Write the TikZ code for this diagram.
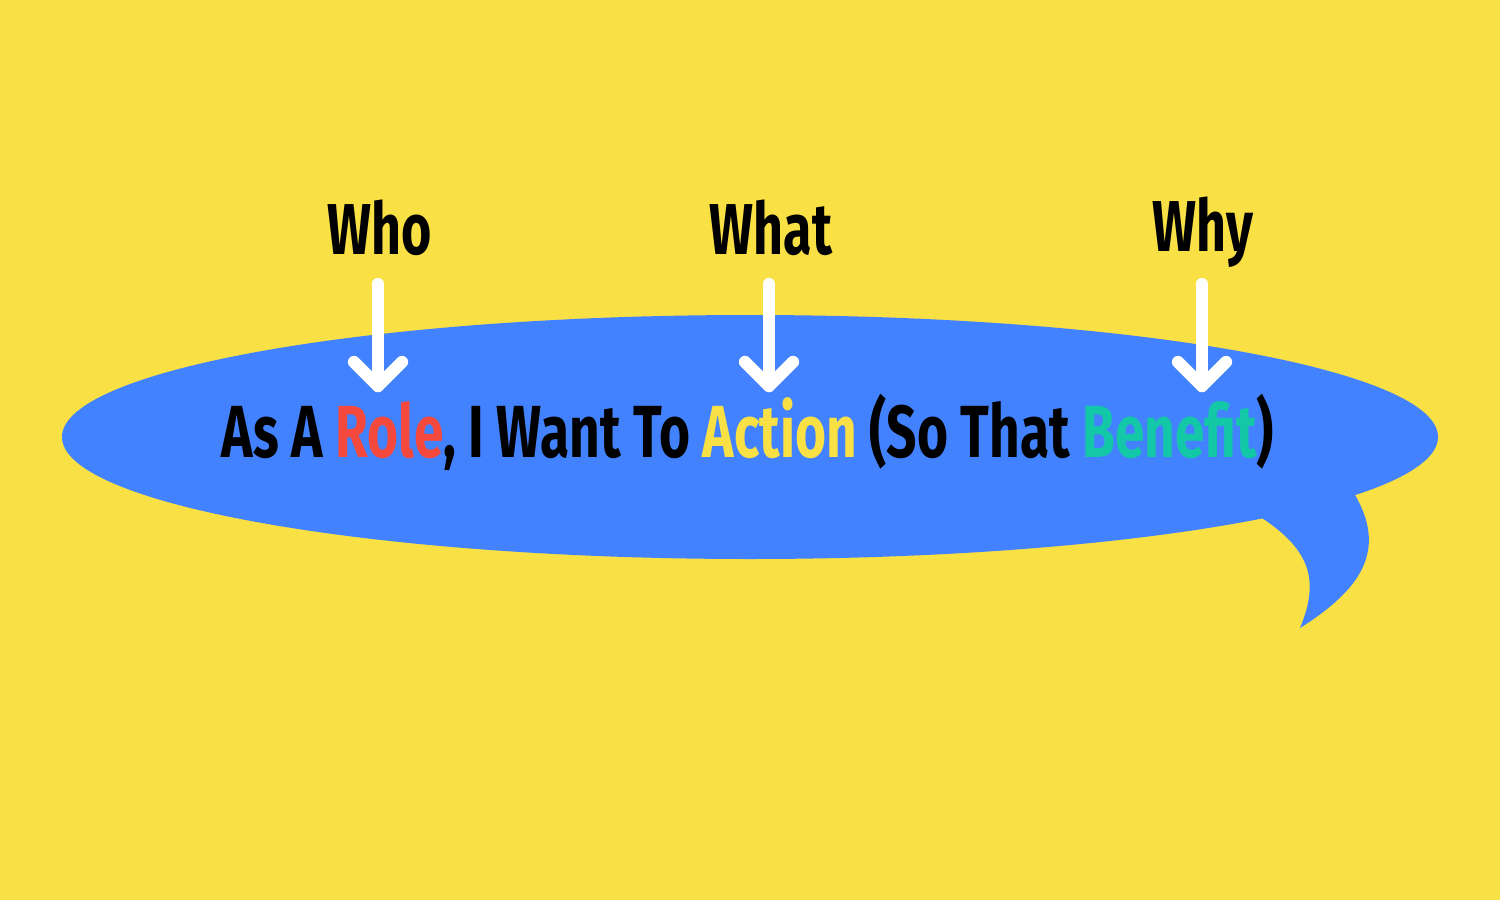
\documentclass[tikz,border=0pt]{standalone}
\usepackage{fontspec}
\usepackage{graphicx}
\setmainfont{Fira Sans}
\definecolor{bg}{HTML}{F8E045}
\definecolor{bub}{HTML}{4382FE}
\definecolor{rolec}{HTML}{F5493D}
\definecolor{benc}{HTML}{12C8A6}
\newcommand{\narrow}[1]{\scalebox{0.72}[1]{#1}}
\begin{document}
\begin{tikzpicture}[x=0.01cm,y=-0.01cm,
  lab/.style={font=\bfseries\fontsize{20.5}{24}\selectfont},
  arr/.style={white,line width=3.5pt,line cap=round,line join=round}]
\fill[bg] (0,0) rectangle (1500,900);
\useasboundingbox (0,0) rectangle (1500,900);
\fill[bub] (750,437) ellipse [x radius=688, y radius=122];
\fill[bub] (1262,518) .. controls (1310,550) and (1320,580) .. (1300,628)
  .. controls (1360,590) and (1390,550) .. (1352,490) -- cycle;
\node[lab] (who) at (380,228) {\narrow{Who}};
\node[lab] (what) at (771,228) {\narrow{What}};
\node[lab] (why) at (1203,232) {\narrow{Why}};
\foreach \x/\n in {378/a,769/b,1202/c}{
  \coordinate (s\n) at (\x,284);
  \coordinate (e\n) at (\x,386);
  \draw[arr] (s\n) -- (e\n);
  \draw[arr] (\x-24,362) -- (e\n) -- (\x+24,362);
}
\node[font=\bfseries\fontsize{21}{25}\selectfont] (main) at (748,432)
  {\narrow{As A \textcolor{rolec}{Role}, I Want To \textcolor{bg}{Action} (So That \textcolor{benc}{Benefit})}};
\end{tikzpicture}
\end{document}
